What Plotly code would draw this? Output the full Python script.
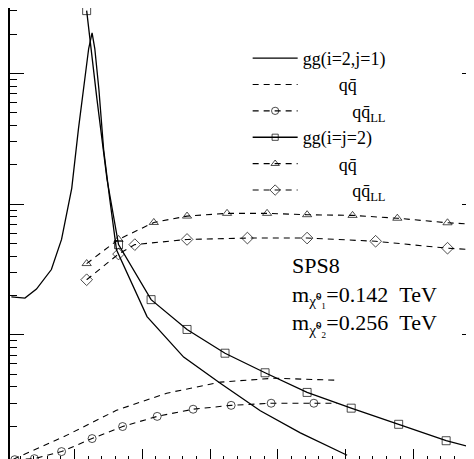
import plotly.graph_objects as go

# gg(i=2,j=1), solid
x_gg21 = [0.07, 0.27, 0.44, 0.66, 0.81, 0.96, 1.06, 1.15, 1.21, 1.26, 1.30, 1.36, 1.43, 1.52, 1.62,
          2.07, 2.61, 3.15, 3.74, 4.33, 5.02]
y_gg21 = [19.5, 19.1, 22.4, 31.6, 53.7, 132, 380, 912, 1549, 2042, 1549, 759, 263, 110, 44.7,
          13.8, 6.76, 4.27, 2.63, 1.78, 1.2]

# qq, dashed
x_qq = [0.10, 0.84, 1.62, 2.36, 3.15, 3.94, 4.87]
y_qq = [1.12, 1.66, 2.65, 3.58, 4.35, 4.66, 4.5]

# qq LL, dashed with circles
x_qqll = [0.12, 0.41, 0.81, 1.26, 1.71, 2.22, 2.75, 3.31, 3.90, 4.53, 4.87]
y_qqll = [1.11, 1.13, 1.28, 1.61, 1.99, 2.38, 2.70, 2.89, 3.0, 3.0, 3.0]

# gg(i=j=2), solid with squares
x_gg22 = [1.18, 1.33, 1.48, 1.65, 2.13, 2.66, 3.22, 3.81, 4.43, 5.08, 5.78, 6.48, 6.85]
y_gg22 = [3020, 646, 155, 49, 18.6, 11.0, 7.24, 5.13, 3.63, 2.75, 2.07, 1.55, 1.38]

# qq (i=j=2), dashed with triangles
x_tri = [1.18, 1.65, 2.17, 2.66, 3.25, 3.84, 4.43, 5.10, 5.76, 6.50, 6.91]
y_tri = [35.1, 53.7, 72.4, 81, 85, 85, 83, 82, 78, 72, 70]

# qq LL (i=j=2), dashed with diamonds
x_dia = [1.18, 1.65, 1.89, 2.66, 3.55, 4.43, 5.44, 6.50, 6.91]
y_dia = [26.4, 41.5, 49, 53.7, 55, 55, 52, 46, 44.7]

serif = "Liberation Serif"
pad = "\u00a0"

fig = go.Figure()
fig.add_trace(go.Scatter(x=x_gg21, y=y_gg21, mode="lines", name="gg(i=2,j=1)",
                         line=dict(color="black", width=1.3)))
fig.add_trace(go.Scatter(x=x_qq, y=y_qq, mode="lines", name=pad * 8 + "qq̄",
                         line=dict(color="black", width=1.1, dash="6px,5px")))
fig.add_trace(go.Scatter(x=x_qqll, y=y_qqll, mode="lines+markers",
                         name=pad * 11 + "qq̄<sub>LL</sub>",
                         line=dict(color="black", width=1.1, dash="6px,5px"),
                         marker=dict(symbol="circle-open", size=[8] * 10 + [0],
                                     color="black", line=dict(width=1))))
fig.add_trace(go.Scatter(x=x_gg22, y=y_gg22, mode="lines+markers", name="gg(i=j=2)",
                         line=dict(color="black", width=1.3),
                         marker=dict(symbol="square-open",
                                     size=[8, 0, 0] + [8] * 9 + [0],
                                     color="black", line=dict(width=1))))
fig.add_trace(go.Scatter(x=x_tri, y=y_tri, mode="lines+markers", name=pad * 8 + "qq̄",
                         line=dict(color="black", width=1.1, dash="6px,5px"),
                         marker=dict(symbol="triangle-up-open", size=[8] * 10 + [0],
                                     color="black", line=dict(width=1))))
fig.add_trace(go.Scatter(x=x_dia, y=y_dia, mode="lines+markers",
                         name=pad * 11 + "qq̄<sub>LL</sub>",
                         line=dict(color="black", width=1.1, dash="6px,5px"),
                         marker=dict(symbol="diamond-open", size=[9] * 8 + [0],
                                     color="black", line=dict(width=1))))

fig.add_annotation(xref="paper", yref="paper", x=0.6, y=0.465, xanchor="left", yanchor="top",
                   showarrow=False, align="left",
                   text="SPS8<br>m<sub>χ̃⁰₁</sub>=0.142  TeV<br>m<sub>χ̃⁰₂</sub>=0.256  TeV",
                   font=dict(family=serif, size=22, color="black"))

fig.update_layout(
    width=474, height=459,
    margin=dict(l=2, r=6, t=0, b=4),
    paper_bgcolor="white", plot_bgcolor="white",
    font=dict(family=serif, size=18, color="black"),
    legend=dict(x=0.51, y=0.93, xanchor="left", yanchor="top", bgcolor="rgba(0,0,0,0)",
                tracegroupgap=0, itemwidth=45, font=dict(family=serif, size=18)),
)
fig.update_xaxes(range=[0.05, 6.92], showticklabels=False, showgrid=False, zeroline=False,
                 showline=True, linecolor="black", linewidth=1.5,
                 ticks="inside", dtick=1, tick0=0, ticklen=14, tickcolor="black",
                 minor=dict(ticks="inside", dtick=0.2, ticklen=7, tickcolor="black"))
fig.update_yaxes(type="log", range=[0.02, 3.5], showticklabels=False, showgrid=False, zeroline=False,
                 showline=True, mirror="ticks", linecolor="black", linewidth=1.5,
                 ticks="inside", dtick=1, ticklen=14, tickcolor="black",
                 minor=dict(ticks="inside", ticklen=7, tickcolor="black", showgrid=False))

fig.write_html("out.html")
